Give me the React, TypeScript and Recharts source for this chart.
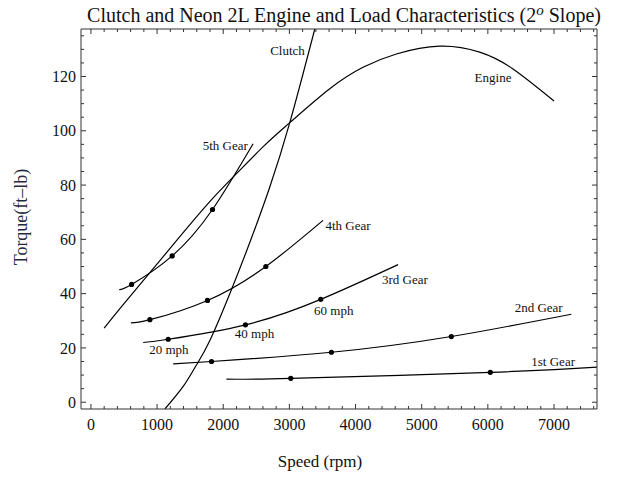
import { ComposedChart, Line, Scatter, XAxis, YAxis, ReferenceDot } from 'recharts'

const SERIF = '"Liberation Serif", "Times New Roman", serif'
const INK = '#111'

// torque curves, speed in rpm vs torque in ft-lb
const engine = [
  { x: 200, y: 27.3 }, { x: 500, y: 36.3 }, { x: 866, y: 47 }, { x: 1344, y: 61 },
  { x: 1800, y: 74 }, { x: 2200, y: 84.2 }, { x: 2628, y: 94.7 }, { x: 3006, y: 103 },
  { x: 3610, y: 115.5 }, { x: 4113, y: 123.4 }, { x: 4617, y: 128.3 }, { x: 5272, y: 131.2 },
  { x: 5876, y: 129 }, { x: 6380, y: 122.8 }, { x: 7000, y: 111 }
]

const clutch = [
  { x: 1118, y: -2.5 }, { x: 1400, y: 6 }, { x: 1597, y: 13.8 }, { x: 1798, y: 22.7 },
  { x: 2125, y: 41.5 }, { x: 2427, y: 60.5 }, { x: 2700, y: 79 }, { x: 3006, y: 103 },
  { x: 3384, y: 137.5 }
]

const fifthGear = [{ x: 428, y: 41.5 }, { x: 615, y: 43.4 }, { x: 1228, y: 53.9 }, { x: 1838, y: 71 }, { x: 2452, y: 95.2 }]
const fourthGear = [{ x: 604, y: 29.2 }, { x: 891, y: 30.4 }, { x: 1762, y: 37.5 }, { x: 2644, y: 50 }, { x: 3509, y: 67 }]
const thirdGear = [{ x: 790, y: 22 }, { x: 1168, y: 23.2 }, { x: 2336, y: 28.5 }, { x: 3474, y: 37.9 }, { x: 4643, y: 50.7 }]
const secondGear = [{ x: 1244, y: 14.1 }, { x: 1823, y: 15 }, { x: 3635, y: 18.4 }, { x: 5448, y: 24.2 }, { x: 7261, y: 32.4 }]
const firstGear = [{ x: 2049, y: 8.5 }, { x: 3021, y: 8.8 }, { x: 6037, y: 11 }, { x: 7650, y: 12.9 }]

// operating points at 20, 40 and 60 mph
const mphPoints = [
  { x: 615, y: 43.4 }, { x: 1228, y: 53.9 }, { x: 1838, y: 71 },
  { x: 891, y: 30.4 }, { x: 1762, y: 37.5 }, { x: 2644, y: 50 },
  { x: 1168, y: 23.2 }, { x: 2336, y: 28.5 }, { x: 3474, y: 37.9 },
  { x: 1823, y: 15 }, { x: 3635, y: 18.4 }, { x: 5448, y: 24.2 },
  { x: 3021, y: 8.8 }, { x: 6037, y: 11 }
]

const curves = [engine, clutch, fifthGear, fourthGear, thirdGear, secondGear, firstGear]

const notes = [
  { text: 'Clutch', x: 3233, y: 128, anchor: 'end' },
  { text: 'Engine', x: 5800, y: 118, anchor: 'start' },
  { text: '5th Gear', x: 1690, y: 93, anchor: 'start' },
  { text: '4th Gear', x: 3545, y: 63.6, anchor: 'start' },
  { text: '3rd Gear', x: 4400, y: 43.4, anchor: 'start' },
  { text: '2nd Gear', x: 6405, y: 33.2, anchor: 'start' },
  { text: '1st Gear', x: 6657, y: 13.3, anchor: 'start' },
  { text: '20 mph', x: 881, y: 17.8, anchor: 'start' },
  { text: '40 mph', x: 2175, y: 23.7, anchor: 'start' },
  { text: '60 mph', x: 3373, y: 32.2, anchor: 'start' }
]

const xTicks: number[] = []
for (let v = 0; v <= 7600; v += 200) xTicks.push(v)
const yTicks: number[] = []
for (let v = 0; v <= 135; v += 5) yTicks.push(v)

const X_DOMAIN = [-150, 7650]
const Y_DOMAIN = [-2.5, 137.5]
const MAJOR = 5
const MINOR = 3
const FRAME = '#333'

const BottomTick = ({ x, y, payload }: any) => {
  const major = payload.value % 1000 === 0
  return (
    <g>
      <line x1={x} x2={x} y1={y} y2={y - (major ? MAJOR : MINOR)} stroke={FRAME} />
      {major && (
        <text x={x} y={y + 21} textAnchor="middle" fontSize={16} fontFamily={SERIF} fill={INK}>
          {payload.value}
        </text>
      )}
    </g>
  )
}

const TopTick = ({ x, y, payload }: any) => {
  const major = payload.value % 1000 === 0
  return <line x1={x} x2={x} y1={y} y2={y + (major ? MAJOR : MINOR)} stroke={FRAME} />
}

const LeftTick = ({ x, y, payload }: any) => {
  const major = payload.value % 20 === 0
  return (
    <g>
      <line x1={x} x2={x + (major ? MAJOR : MINOR)} y1={y} y2={y} stroke={FRAME} />
      {major && (
        <text x={x - 5} y={y} dy="0.35em" textAnchor="end" fontSize={16} fontFamily={SERIF} fill={INK}>
          {payload.value}
        </text>
      )}
    </g>
  )
}

const RightTick = ({ x, y, payload }: any) => {
  const major = payload.value % 20 === 0
  return <line x1={x} x2={x - (major ? MAJOR : MINOR)} y1={y} y2={y} stroke={FRAME} />
}

const Dot = ({ cx, cy }: any) => <circle cx={cx} cy={cy} r={2.6} fill="#000" />

// title and x-axis caption share the bottom axis label slot
const Captions = () => (
  <g fontFamily={SERIF} fill={INK}>
    <text x={344} y={22} textAnchor="middle" fontSize={20}>
      Clutch and Neon 2L Engine and Load Characteristics (2
      <tspan dy={-7} fontSize={15} fontStyle="italic">o</tspan>
      <tspan dy={7}> Slope)</tspan>
    </text>
    <text x={320} y={467} textAnchor="middle" fontSize={17}>
      Speed (rpm)
    </text>
  </g>
)

export default function App() {
  return (
    <div style={{ position: 'absolute', left: 0, top: 0, background: '#fff' }}>
      <ComposedChart width={619} height={489} margin={{ top: 28, right: 21, bottom: 0, left: 0 }}>
        <XAxis
          xAxisId="b" dataKey="x" type="number" domain={X_DOMAIN} ticks={xTicks} interval={0}
          allowDataOverflow height={80} tickSize={0} tickMargin={0} tickLine={false}
          axisLine={{ stroke: FRAME }} tick={<BottomTick />}
          label={{ content: () => <Captions /> }}
        />
        <XAxis
          xAxisId="t" dataKey="x" type="number" orientation="top" domain={X_DOMAIN} ticks={xTicks}
          interval={0} allowDataOverflow height={1} tickSize={0} tickMargin={0} tickLine={false}
          axisLine={{ stroke: FRAME }} tick={<TopTick />}
        />
        <YAxis
          yAxisId="l" dataKey="y" type="number" domain={Y_DOMAIN} ticks={yTicks} interval={0}
          allowDataOverflow width={81} tickSize={0} tickMargin={0} tickLine={false}
          axisLine={{ stroke: FRAME }} tick={<LeftTick />}
          label={{
            content: () => (
              <text x={27} y={217} transform="rotate(-90 27 217)" textAnchor="middle" fontSize={18} fontFamily={SERIF} fill="#1f2a40">
                Torque(ft–lb)
              </text>
            )
          }}
        />
        <YAxis
          yAxisId="r" dataKey="y" type="number" orientation="right" domain={Y_DOMAIN} ticks={yTicks}
          interval={0} allowDataOverflow width={1} tickSize={0} tickMargin={0} tickLine={false}
          axisLine={{ stroke: FRAME }} tick={<RightTick />}
        />
        {curves.map((data, i) => (
          <Line
            key={i} xAxisId="b" yAxisId="l" data={data} dataKey="y" type="natural"
            stroke="#000" strokeWidth={1.2} dot={false} activeDot={false} isAnimationActive={false}
          />
        ))}
        <Scatter xAxisId="b" yAxisId="l" data={mphPoints} dataKey="y" shape={<Dot />} isAnimationActive={false} />
        {notes.map((n) => (
          <ReferenceDot
            key={n.text} xAxisId="b" yAxisId="l" x={n.x} y={n.y} r={0} ifOverflow="visible"
            shape={(p: any) => (
              <text x={p.cx} y={p.cy} textAnchor={n.anchor as any} fontSize={13} fontFamily={SERIF} fill={INK}>
                {n.text}
              </text>
            )}
          />
        ))}
      </ComposedChart>
    </div>
  )
}
